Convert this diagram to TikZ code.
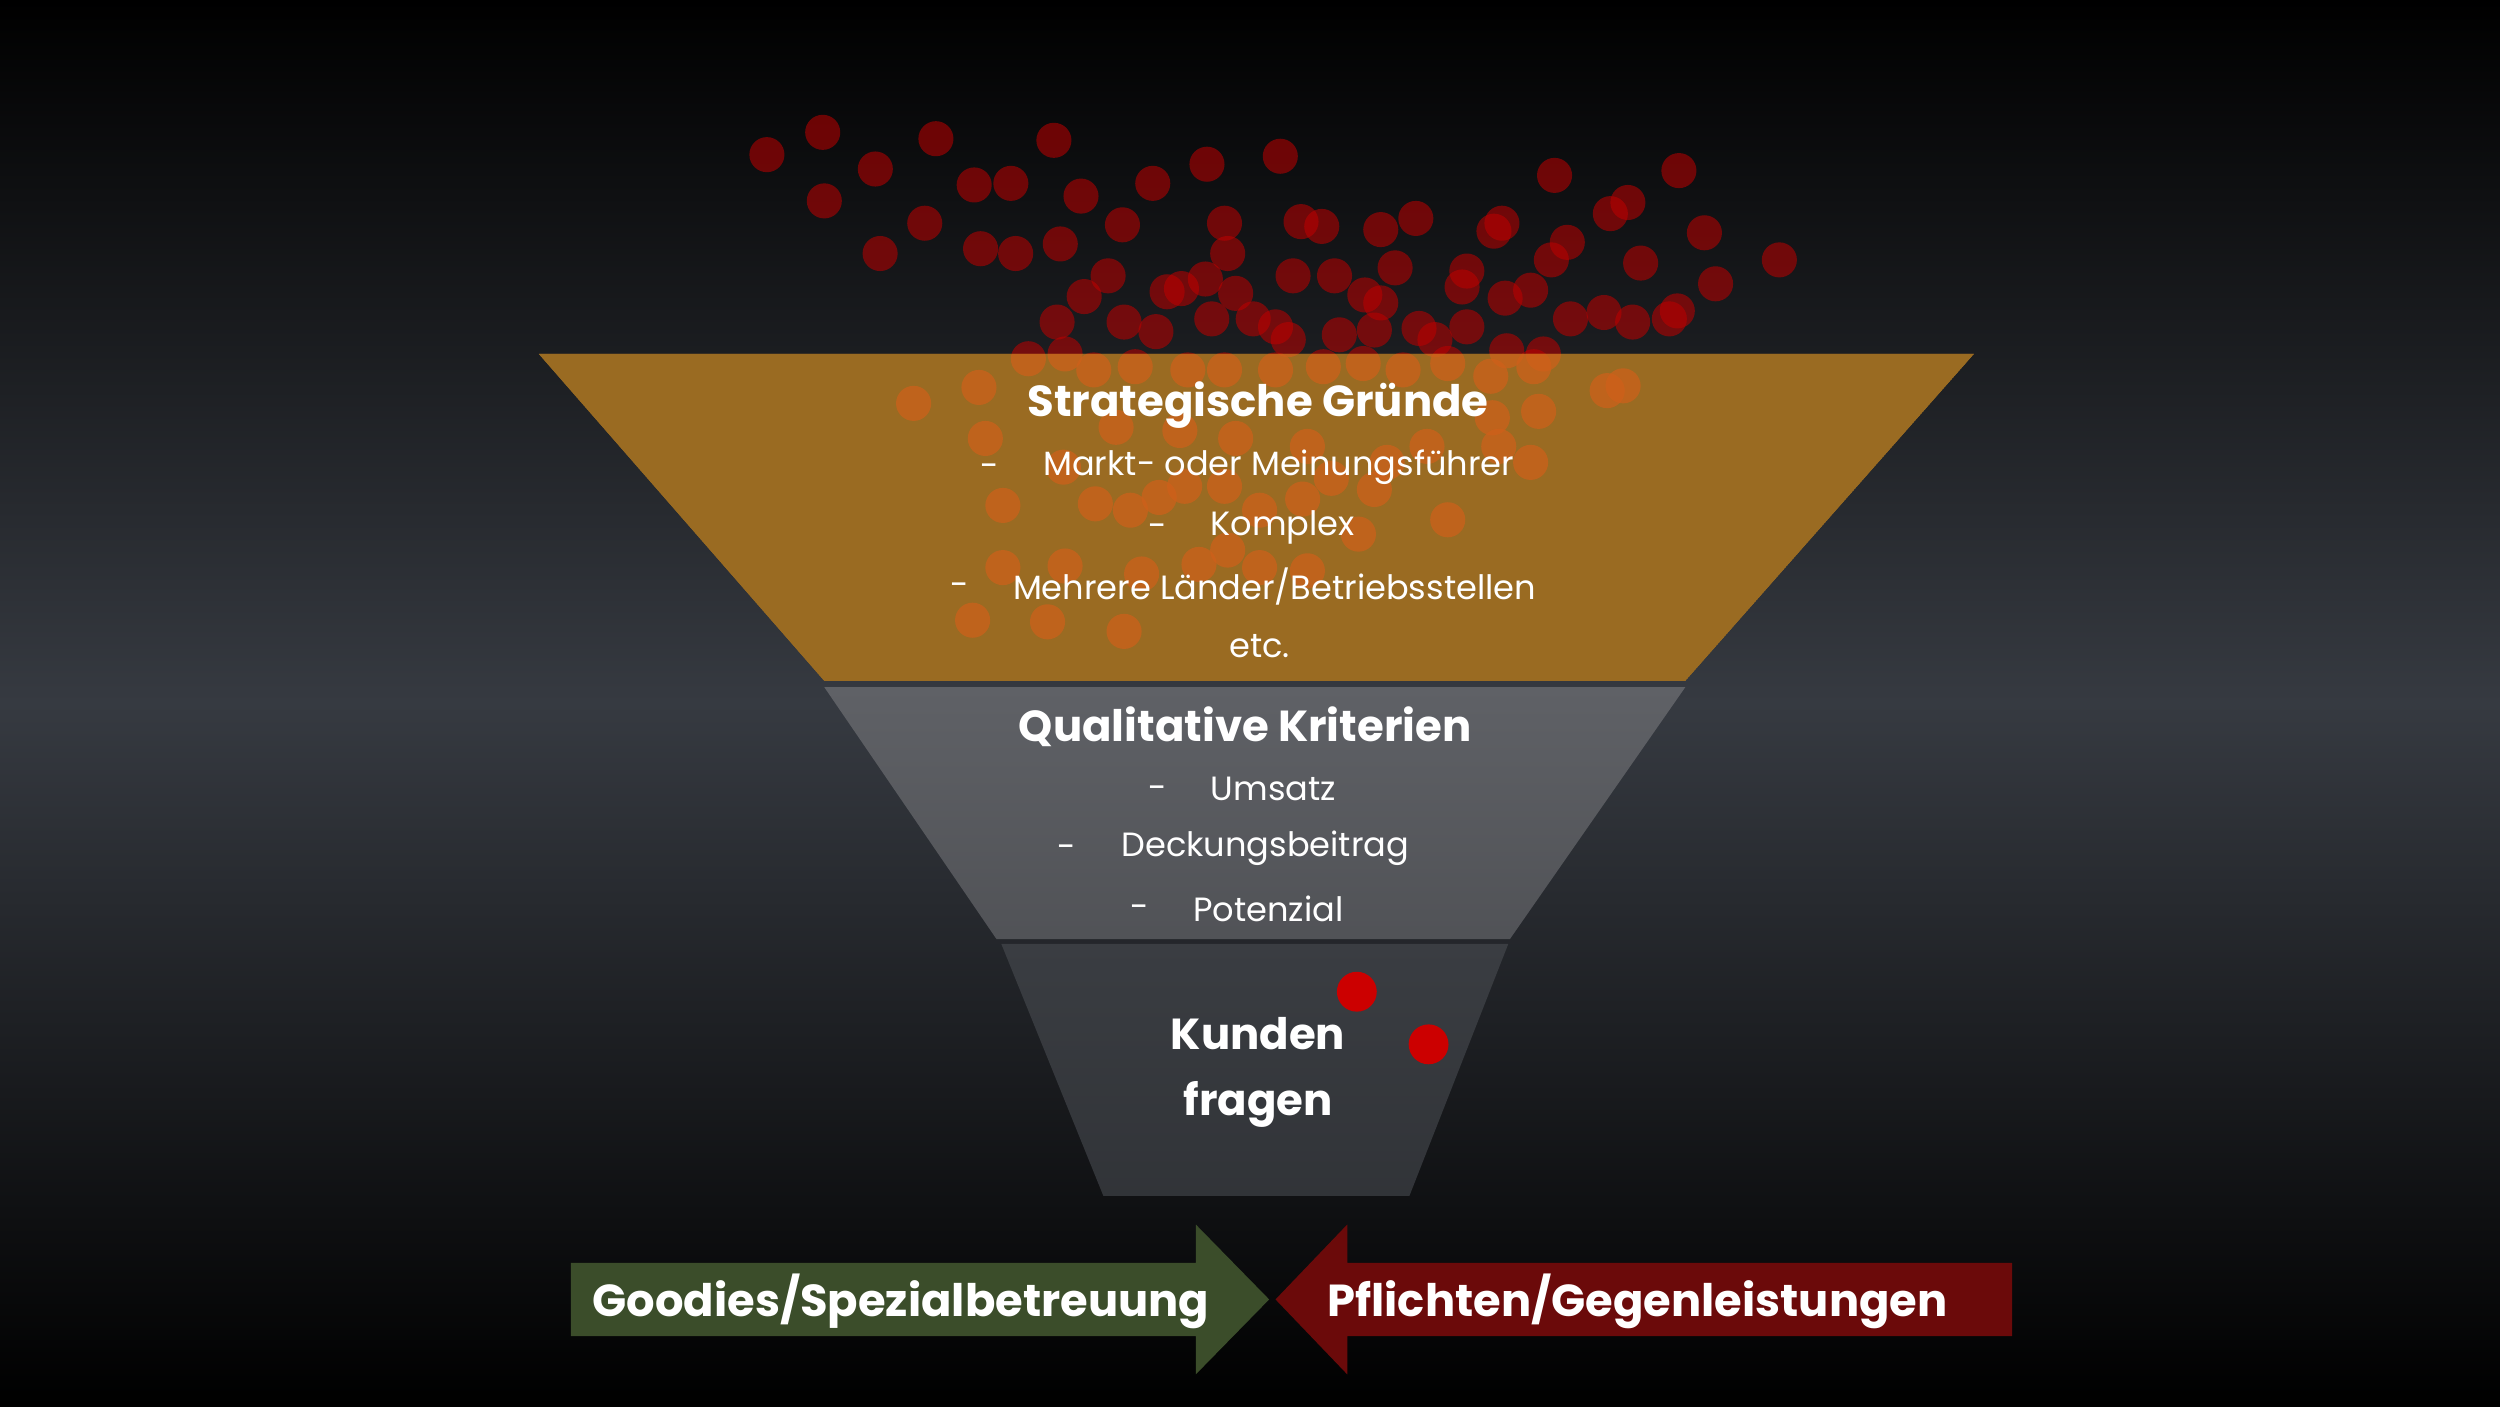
\documentclass[tikz,border=0pt]{standalone}
\usepackage{fontspec}
\setmainfont{Poppins}
\begin{document}
\begin{tikzpicture}[x=0.02cm,y=-0.02cm,
  body/.style={text=white,font=\fontsize{12}{14}\selectfont,inner sep=0pt},
  head/.style={text=white,font=\bfseries\fontsize{15.5}{18}\selectfont,inner sep=0pt},
  arrlab/.style={text=white,font=\bfseries\fontsize{16}{18}\selectfont,inner sep=0pt},
  dot/.style={fill=red!75!black,opacity=0.55},
  odot/.style={fill=orngdot,opacity=0.7},
  bigdot/.style={fill=red!80!black}]
\definecolor{gold}{HTML}{9A6B22}
\definecolor{orngdot}{HTML}{D0601A}
\definecolor{midg}{HTML}{5F6166}
\definecolor{lowg}{HTML}{3A3D42}
\definecolor{bgmid}{HTML}{363A41}
\definecolor{grn}{HTML}{3B4D2A}
\definecolor{rd}{HTML}{6B0A0A}
\useasboundingbox (0,0) rectangle (1568,882);
\shade[top color=black,bottom color=bgmid] (0,0) rectangle (1568,441);
\shade[top color=bgmid,bottom color=black] (0,441) rectangle (1568,882);
\fill[gold] (338,222) -- (1238,222) -- (1057,427) -- (517,427) -- cycle;
\shade[top color=midg,bottom color=midg!85!black] (517,431) -- (1057,431) -- (947,589) -- (625,589) -- cycle;
\shade[top color=lowg,bottom color=lowg!85!black] (628,592) -- (946,592) -- (884,750) -- (692,750) -- cycle;
\fill[grn] (358,792) -- (750,792) -- (750,768) -- (796,815) -- (750,862) -- (750,838) -- (358,838) -- cycle;
\fill[rd] (1262,792) -- (845,792) -- (845,768) -- (800,815) -- (845,862) -- (845,838) -- (1262,838) -- cycle;
\def\dotlist{(481,97),(516,83),(549,106),(587,87),(661,88),(611,116),(634,115),(517,126),(580,140),(552,159),(615,156),(637,159),(665,153),(678,123),(704,141),(723,115),(757,103),(803,98),(768,140),(816,139),(829,142),(770,159),(695,173),(680,186),(732,183),(741,181),(756,175),(775,184),(811,173),(837,173),(866,144),(888,137),(875,168),(856,185),(866,190),(920,170),(917,180),(937,145),(942,140),(975,110),(1053,107),(1021,127),(1010,134),(983,152),(973,163),(1029,165),(1069,146),(1076,178),(1116,163),(944,187),(960,182),(985,200),(1006,196),(1024,202),(1047,200),(1052,195),(663,202),(705,202),(725,208),(760,200),(786,200),(800,205),(808,213),(840,210),(862,207),(890,206),(900,213),(920,205),(945,220),(968,222),(645,225),(668,222),(686,232),(712,230),(745,232),(768,232),(800,232),(830,230),(855,228),(880,232),(908,228),(935,236),(962,230),
(573,253),(614,243),(618,275),(629,317),(687,316),(709,320),(727,312),(743,305),(768,305),(790,320),(817,313),(835,300),(862,307),(908,326),(965,258),(1008,245),(1018,242),(936,262),(895,280),(870,290),(820,280),(775,275),(740,270),(700,268),(667,293),(629,356),(668,355),(716,360),(752,354),(790,356),(820,358),(852,335),(610,389),(657,390),(705,396),(770,345),(940,280),(960,290)}
\foreach \p in \dotlist \fill[dot] \p circle (11);
\begin{scope}
\clip (338,222) -- (1238,222) -- (1057,427) -- (517,427) -- cycle;
\fill[gold] (338,222) -- (1238,222) -- (1057,427) -- (517,427) -- cycle;
\foreach \p in \dotlist \fill[odot] \p circle (11);
\end{scope}
\fill[bigdot] (851,622) circle (12.5);
\fill[bigdot] (896,655) circle (12.5);
\node[head] (t1) at (789,254) {Strategische Gründe};
\node[body] (d1) at (621,295) {-};
\node[body,anchor=west] (l1) at (654,293) {Markt- oder Meinungsführer};
\node[body] (d2) at (726,333) {-};
\node[body,anchor=west] (l2) at (759,331) {Komplex};
\node[body] (d3) at (602,370) {-};
\node[body,anchor=west] (l3) at (635,368) {Mehrere Länder/Betriebsstellen};
\node[body] (l4) at (790,405) {etc.};
\node[head] (t2) at (781,456) {Qualitative Kriterien};
\node[body] (d5) at (726,497) {-};
\node[body,anchor=west] (l5) at (759,495) {Umsatz};
\node[body] (d6) at (669,534) {-};
\node[body,anchor=west] (l6) at (703,532) {Deckungsbeitrag};
\node[body] (d7) at (715,572) {-};
\node[body,anchor=west] (l7) at (748,570) {Potenzial};
\node[head] (t3) at (789,648) {Kunden};
\node[head] (t4) at (789,693) {fragen};
\node[arrlab] (g) at (565,816) {Goodies/Spezialbetreuung};
\node[arrlab] (p) at (1027,816) {Pflichten/Gegenleistungen};
\end{tikzpicture}
\end{document}
